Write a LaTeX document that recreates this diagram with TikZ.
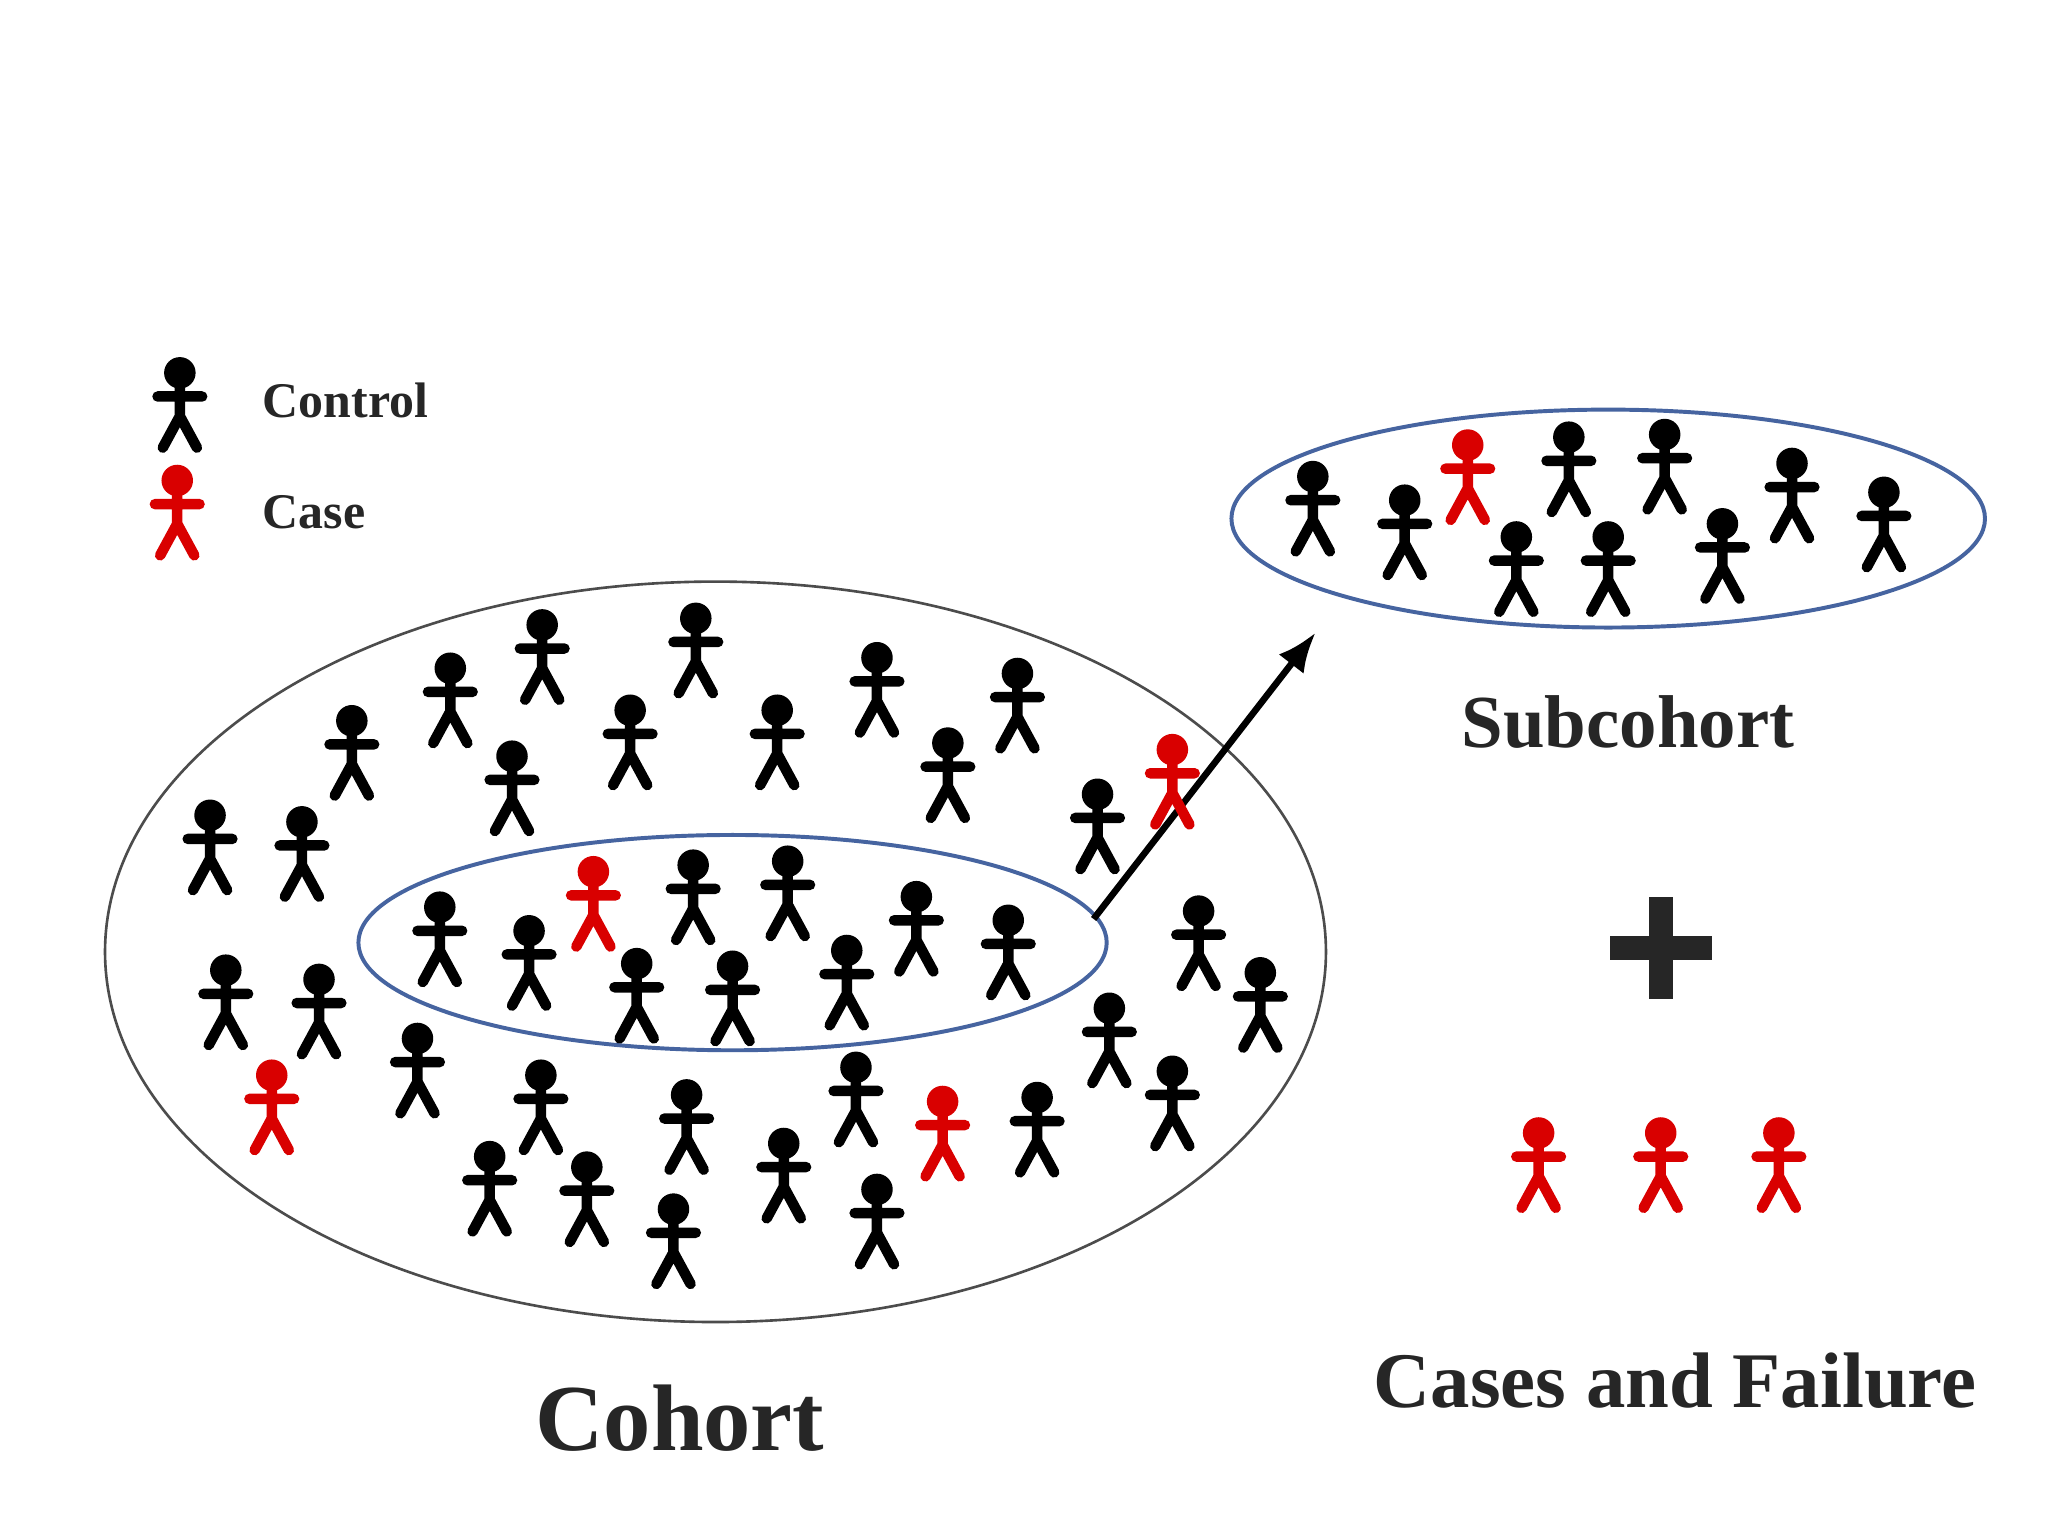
\documentclass[tikz,border=0pt]{standalone}
\usepackage{fontspec}
\setmainfont{Liberation Serif}
\usetikzlibrary{arrows.meta}
\begin{document}
\begin{tikzpicture}[x=1pt,y=-1pt,
  lbl/.style={font=\bfseries, text=black!85, inner sep=0pt},
  ell/.style={draw={rgb,255:red,70;green,100;blue,160}, line width=3pt},
  fig/.pic={
    \fill (0,11) circle (12);
    \draw[line width=8pt, line cap=round] (0,16)--(0,45) (-17,29)--(17,29) (-13,68)--(0,44)--(13,68);
  }]
\useasboundingbox (0,0) rectangle (1560,1170);
\fill[white] (0,0) rectangle (1560,1170);
% legend
\pic[black] at (137,273) {fig};
\pic[red!85!black] at (135,355) {fig};
\node[lbl,font=\bfseries\fontsize{38}{40}\selectfont,anchor=west] (ctl) at (200,305) {Control};
\node[lbl,font=\bfseries\fontsize{38}{40}\selectfont,anchor=west] (cas) at (200,390) {Case};
% ellipses
\draw[draw=black!70, line width=2pt] (545,725) ellipse [x radius=465, y radius=282];
\draw[ell] (558,718) ellipse [x radius=285, y radius=82];
\draw[ell] (1225,395) ellipse [x radius=287, y radius=83];
\coordinate (a1) at (833,700);
\coordinate (a2) at (1002,482);
\draw[line width=5pt,-{Latex[length=30pt,width=24pt]}] (a1)--(a2);
% black figures
\foreach \p in {(1000,352),(1070,370),(1195,322),(1268,320),(1155,398),(1225,398),(1312,388),(1365,342),(1435,364),
 (160,610),(230,615),(268,538),(343,498),(413,465),(390,565),(480,530),(530,460),(592,530),(668,490),(722,555),(775,502),(836,594),
 (335,680),(403,698),(528,648),(600,645),(485,723),(558,725),(645,713),(698,672),(768,690),
 (913,683),(960,730),(172,728),(243,735),(318,780),(412,808),(523,823),(652,802),(790,825),(845,757),(893,805),(373,870),(447,878),(513,910),(597,860),(668,895)}
  \pic[black] at \p {fig};
\foreach \p in {(1118,328),(893,560),(452,653),(207,808),(718,828),(1172,852),(1265,852),(1355,852)}
  \pic[red!85!black] at \p {fig};
% plus
\fill[black!85] (1226,713) rectangle (1304,731);
\fill[black!85] (1256,683) rectangle (1274,761);
\node[lbl,font=\bfseries\fontsize{57}{60}\selectfont] (sub) at (1240,550) {Subcohort};
\node[lbl,font=\bfseries\fontsize{72}{76}\selectfont] (coh) at (518,1080) {Cohort};
\node[lbl,font=\bfseries\fontsize{60}{64}\selectfont] (caf) at (1276,1052) {Cases and Failure};
\end{tikzpicture}
\end{document}
